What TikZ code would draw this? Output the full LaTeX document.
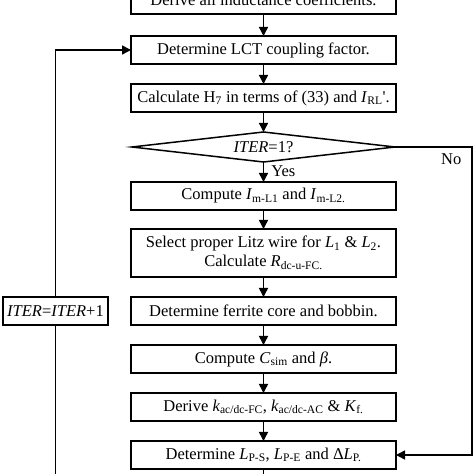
\documentclass[tikz,border=0pt]{standalone}
\usepackage{fontspec}
\setmainfont{Liberation Serif}
\usetikzlibrary{arrows.meta, positioning, shapes.geometric, calc}

\begin{document}
\begin{tikzpicture}[
    x=1pt, y=1pt,
    >={Triangle[length=9pt, width=9pt]},
    node distance=20pt,
    font=\fontsize{16.5}{19}\selectfont,
    stepbox/.style={rectangle, draw=black, line width=1.5pt, align=center, minimum width=265pt, minimum height=28pt, inner sep=2pt, outer sep=0pt},
    decision/.style={diamond, aspect=8, draw=black, line width=1.5pt, inner sep=0pt, outer sep=0pt, minimum width=263pt, minimum height=30pt},
    counterbox/.style={rectangle, draw=black, line width=1.5pt, align=center, minimum width=105pt, minimum height=28pt, inner sep=2pt, outer sep=0pt},
    branchtext/.style={inner sep=0pt},
    line/.style={->, line width=1.5pt},
    wire/.style={line width=1.5pt}
]
\useasboundingbox (0,0) rectangle (474,474);

\node[stepbox] (derive) at (263.5,474) {Derive all inductance coefficients.};
\node[stepbox, below=22pt of derive] (coupling) {Determine LCT coupling factor.};
\node[stepbox, below=of coupling] (calch) {Calculate H\textsubscript{7} in terms of (33) and \textit{I}\textsubscript{RL}\textquotesingle.};
\node[decision, below=of calch] (check) {\textit{ITER}=1?};
\node[stepbox, below=of check] (current) {Compute \textit{I}\textsubscript{m-L1} and \textit{I}\textsubscript{m-L2.}};
\node[stepbox, below=19pt of current, minimum height=48pt] (litz) {Select proper Litz wire for \textit{L}\textsubscript{1} \& \textit{L}\textsubscript{2}.\\Calculate \textit{R}\textsubscript{dc-u-FC.}};
\node[stepbox, below=of litz] (core) {Determine ferrite core and bobbin.};
\node[stepbox, below=of core] (csim) {Compute \textit{C}\textsubscript{sim} and \textit{β}.};
\node[stepbox, below=of csim] (kfac) {Derive \textit{k}\textsubscript{ac/dc-FC}, \textit{k}\textsubscript{ac/dc-AC} \& \textit{K}\textsubscript{f.}};
\node[stepbox, below=of kfac] (lp) {Determine \textit{L}\textsubscript{P-S}, \textit{L}\textsubscript{P-E} and Δ\textit{L}\textsubscript{P.}};

\node[counterbox, left=23pt of core] (iter) {\textit{ITER}=\textit{ITER}+1};

\coordinate (noturn) at (check -| 472,0);
\coordinate (next) at ([yshift=-20pt]lp.south);
\coordinate (loopin) at (iter |- 0,-20);

\draw[line] (derive) -- (coupling);
\draw[line] (coupling) -- (calch);
\draw[line] (calch) -- (check);
\draw[line] (check) -- node[branchtext, right=7pt, pos=0.45] {Yes} (current);
\draw[line] (current) -- (litz);
\draw[line] (litz) -- (core);
\draw[line] (core) -- (csim);
\draw[line] (csim) -- (kfac);
\draw[line] (kfac) -- (lp);
\draw[line] (lp) -- (next);

\draw[line] (check.east) -- (noturn) node[branchtext, below left=6pt and 10pt] {No} |- (lp.east);

\draw[wire] (loopin) -- (iter);
\draw[line] (iter) |- (coupling);
\end{tikzpicture}
\end{document}
